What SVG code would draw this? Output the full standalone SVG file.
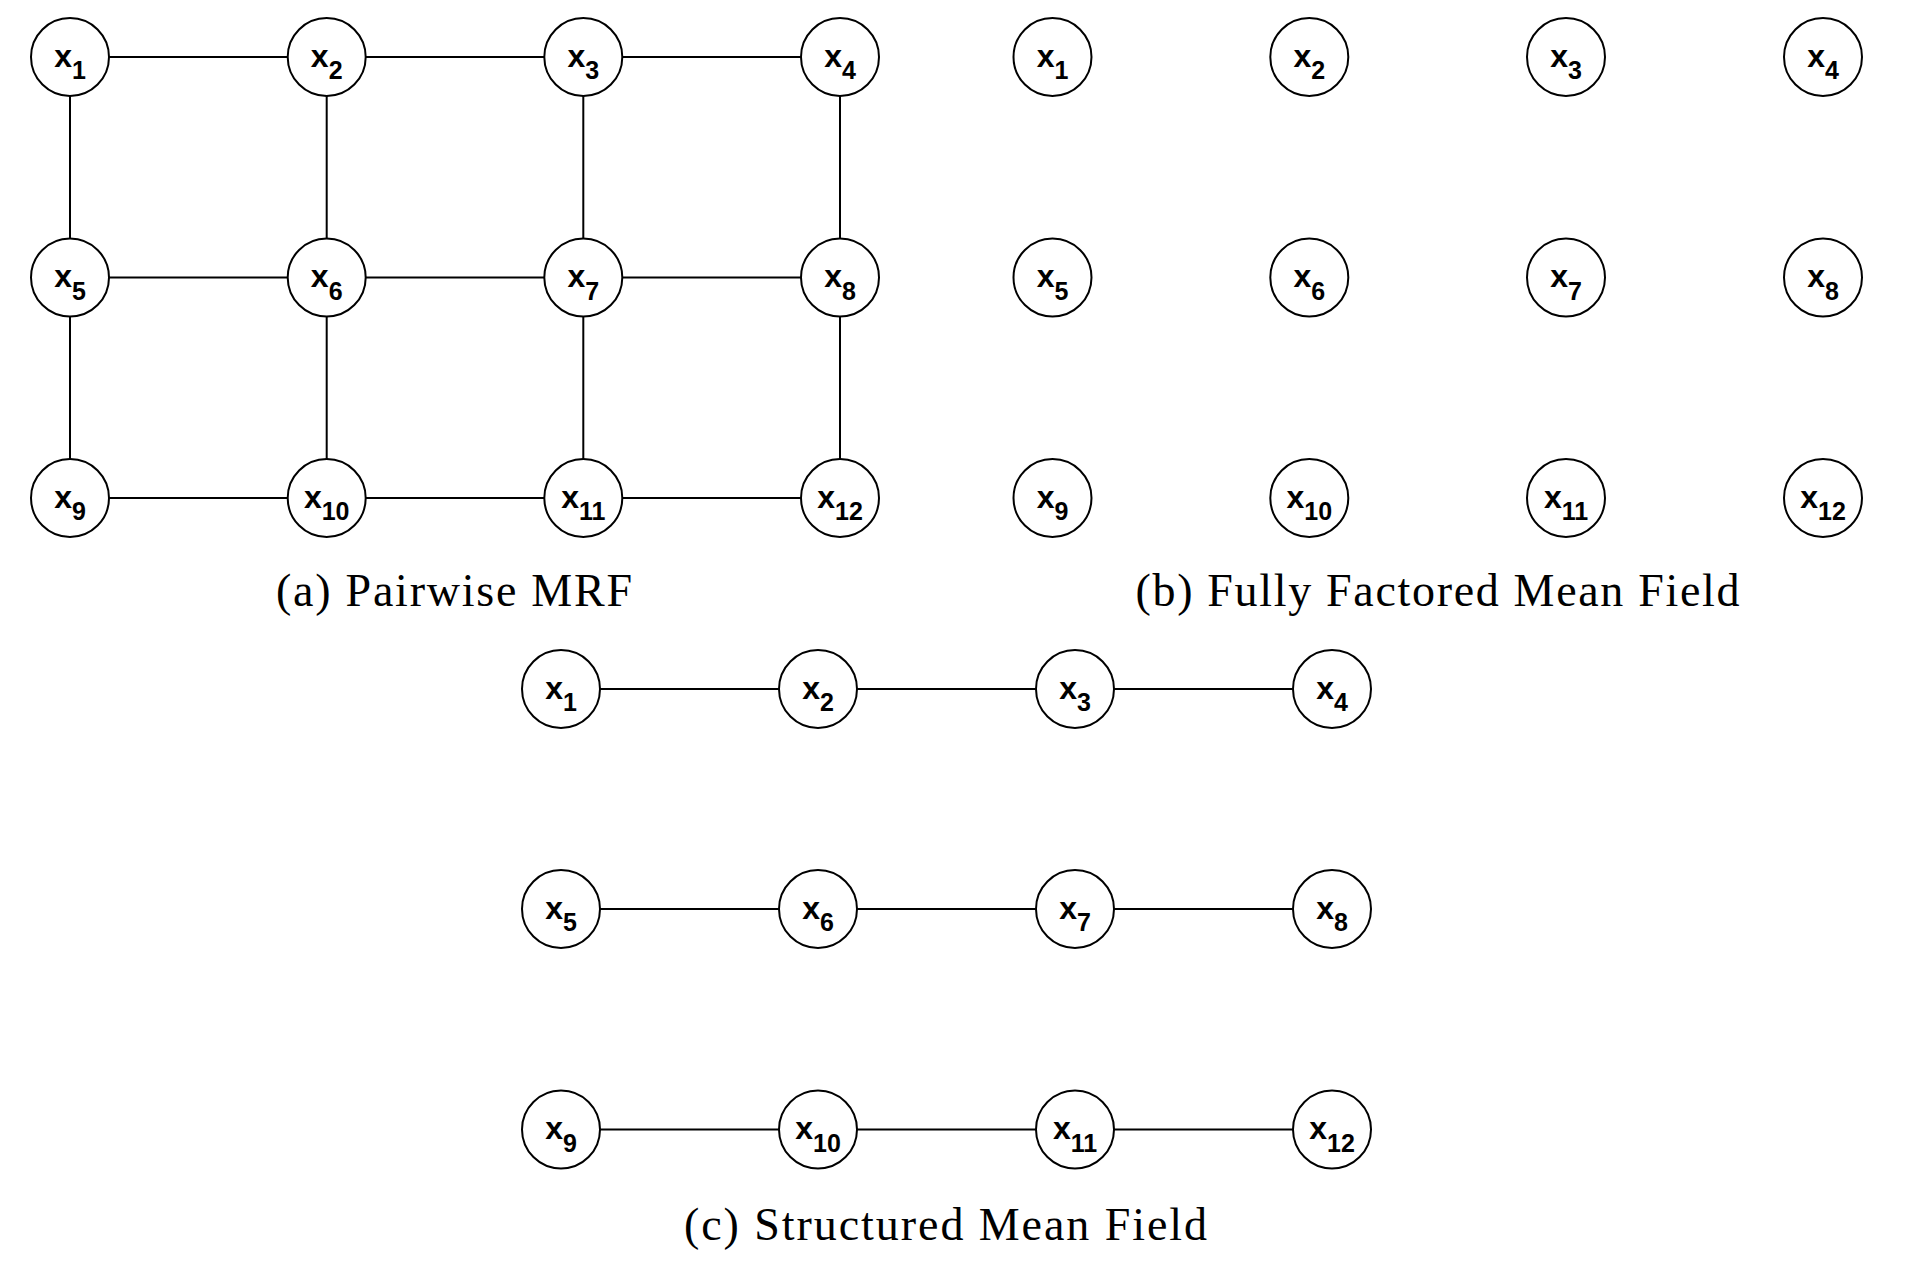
<svg xmlns="http://www.w3.org/2000/svg" width="1914" height="1264" viewBox="0 0 1914 1264">
<style>
.n{fill:#fff;stroke:#000;stroke-width:2}
.e{stroke:#000;stroke-width:2;fill:none}
.t{font-family:"Liberation Sans",Arial,sans-serif;font-weight:bold;font-size:32px;text-anchor:middle;fill:#000}
.s{font-size:25px}
.cap{font-family:"Liberation Serif","Times New Roman",serif;font-size:46px;fill:#000}
</style>
<rect width="1914" height="1264" fill="#fff"/>
<g id="connectors">
<line class="e" x1="70" y1="57" x2="840" y2="57"/>
<line class="e" x1="70" y1="277.5" x2="840" y2="277.5"/>
<line class="e" x1="70" y1="498" x2="840" y2="498"/>
<line class="e" x1="70" y1="57" x2="70" y2="498"/>
<line class="e" x1="326.7" y1="57" x2="326.7" y2="498"/>
<line class="e" x1="583.3" y1="57" x2="583.3" y2="498"/>
<line class="e" x1="840" y1="57" x2="840" y2="498"/>
<line class="e" x1="561" y1="689" x2="1332" y2="689"/>
<line class="e" x1="561" y1="909" x2="1332" y2="909"/>
<line class="e" x1="561" y1="1129.5" x2="1332" y2="1129.5"/>
</g>
<g id="panel-a">
<g id="a1"><circle class="n" cx="70" cy="57" r="39"/><text class="t" x="70" y="66.5">x<tspan class="s" dy="12.5">1</tspan></text></g>
<g id="a2"><circle class="n" cx="326.7" cy="57" r="39"/><text class="t" x="326.7" y="66.5">x<tspan class="s" dy="12.5">2</tspan></text></g>
<g id="a3"><circle class="n" cx="583.3" cy="57" r="39"/><text class="t" x="583.3" y="66.5">x<tspan class="s" dy="12.5">3</tspan></text></g>
<g id="a4"><circle class="n" cx="840" cy="57" r="39"/><text class="t" x="840" y="66.5">x<tspan class="s" dy="12.5">4</tspan></text></g>
<g id="a5"><circle class="n" cx="70" cy="277.5" r="39"/><text class="t" x="70" y="287">x<tspan class="s" dy="12.5">5</tspan></text></g>
<g id="a6"><circle class="n" cx="326.7" cy="277.5" r="39"/><text class="t" x="326.7" y="287">x<tspan class="s" dy="12.5">6</tspan></text></g>
<g id="a7"><circle class="n" cx="583.3" cy="277.5" r="39"/><text class="t" x="583.3" y="287">x<tspan class="s" dy="12.5">7</tspan></text></g>
<g id="a8"><circle class="n" cx="840" cy="277.5" r="39"/><text class="t" x="840" y="287">x<tspan class="s" dy="12.5">8</tspan></text></g>
<g id="a9"><circle class="n" cx="70" cy="498" r="39"/><text class="t" x="70" y="507.5">x<tspan class="s" dy="12.5">9</tspan></text></g>
<g id="a10"><circle class="n" cx="326.7" cy="498" r="39"/><text class="t" x="326.7" y="507.5">x<tspan class="s" dy="12.5">10</tspan></text></g>
<g id="a11"><circle class="n" cx="583.3" cy="498" r="39"/><text class="t" x="583.3" y="507.5">x<tspan class="s" dy="12.5">11</tspan></text></g>
<g id="a12"><circle class="n" cx="840" cy="498" r="39"/><text class="t" x="840" y="507.5">x<tspan class="s" dy="12.5">12</tspan></text></g>
<text id="cap-a" class="cap" x="276" y="606" textLength="356" lengthAdjust="spacing">(a) Pairwise MRF</text>
</g>
<g id="panel-b">
<g id="b1"><circle class="n" cx="1052.5" cy="57" r="39"/><text class="t" x="1052.5" y="66.5">x<tspan class="s" dy="12.5">1</tspan></text></g>
<g id="b2"><circle class="n" cx="1309.3" cy="57" r="39"/><text class="t" x="1309.3" y="66.5">x<tspan class="s" dy="12.5">2</tspan></text></g>
<g id="b3"><circle class="n" cx="1566" cy="57" r="39"/><text class="t" x="1566" y="66.5">x<tspan class="s" dy="12.5">3</tspan></text></g>
<g id="b4"><circle class="n" cx="1823" cy="57" r="39"/><text class="t" x="1823" y="66.5">x<tspan class="s" dy="12.5">4</tspan></text></g>
<g id="b5"><circle class="n" cx="1052.5" cy="277.5" r="39"/><text class="t" x="1052.5" y="287">x<tspan class="s" dy="12.5">5</tspan></text></g>
<g id="b6"><circle class="n" cx="1309.3" cy="277.5" r="39"/><text class="t" x="1309.3" y="287">x<tspan class="s" dy="12.5">6</tspan></text></g>
<g id="b7"><circle class="n" cx="1566" cy="277.5" r="39"/><text class="t" x="1566" y="287">x<tspan class="s" dy="12.5">7</tspan></text></g>
<g id="b8"><circle class="n" cx="1823" cy="277.5" r="39"/><text class="t" x="1823" y="287">x<tspan class="s" dy="12.5">8</tspan></text></g>
<g id="b9"><circle class="n" cx="1052.5" cy="498" r="39"/><text class="t" x="1052.5" y="507.5">x<tspan class="s" dy="12.5">9</tspan></text></g>
<g id="b10"><circle class="n" cx="1309.3" cy="498" r="39"/><text class="t" x="1309.3" y="507.5">x<tspan class="s" dy="12.5">10</tspan></text></g>
<g id="b11"><circle class="n" cx="1566" cy="498" r="39"/><text class="t" x="1566" y="507.5">x<tspan class="s" dy="12.5">11</tspan></text></g>
<g id="b12"><circle class="n" cx="1823" cy="498" r="39"/><text class="t" x="1823" y="507.5">x<tspan class="s" dy="12.5">12</tspan></text></g>
<text id="cap-b" class="cap" x="1135.5" y="606" textLength="604" lengthAdjust="spacing">(b) Fully Factored Mean Field</text>
</g>
<g id="panel-c">
<g id="c1"><circle class="n" cx="561" cy="689" r="39"/><text class="t" x="561" y="698.5">x<tspan class="s" dy="12.5">1</tspan></text></g>
<g id="c2"><circle class="n" cx="818" cy="689" r="39"/><text class="t" x="818" y="698.5">x<tspan class="s" dy="12.5">2</tspan></text></g>
<g id="c3"><circle class="n" cx="1075" cy="689" r="39"/><text class="t" x="1075" y="698.5">x<tspan class="s" dy="12.5">3</tspan></text></g>
<g id="c4"><circle class="n" cx="1332" cy="689" r="39"/><text class="t" x="1332" y="698.5">x<tspan class="s" dy="12.5">4</tspan></text></g>
<g id="c5"><circle class="n" cx="561" cy="909" r="39"/><text class="t" x="561" y="918.5">x<tspan class="s" dy="12.5">5</tspan></text></g>
<g id="c6"><circle class="n" cx="818" cy="909" r="39"/><text class="t" x="818" y="918.5">x<tspan class="s" dy="12.5">6</tspan></text></g>
<g id="c7"><circle class="n" cx="1075" cy="909" r="39"/><text class="t" x="1075" y="918.5">x<tspan class="s" dy="12.5">7</tspan></text></g>
<g id="c8"><circle class="n" cx="1332" cy="909" r="39"/><text class="t" x="1332" y="918.5">x<tspan class="s" dy="12.5">8</tspan></text></g>
<g id="c9"><circle class="n" cx="561" cy="1129.5" r="39"/><text class="t" x="561" y="1139">x<tspan class="s" dy="12.5">9</tspan></text></g>
<g id="c10"><circle class="n" cx="818" cy="1129.5" r="39"/><text class="t" x="818" y="1139">x<tspan class="s" dy="12.5">10</tspan></text></g>
<g id="c11"><circle class="n" cx="1075" cy="1129.5" r="39"/><text class="t" x="1075" y="1139">x<tspan class="s" dy="12.5">11</tspan></text></g>
<g id="c12"><circle class="n" cx="1332" cy="1129.5" r="39"/><text class="t" x="1332" y="1139">x<tspan class="s" dy="12.5">12</tspan></text></g>
<text id="cap-c" class="cap" x="684" y="1240" textLength="523" lengthAdjust="spacing">(c) Structured Mean Field</text>
</g>
</svg>
